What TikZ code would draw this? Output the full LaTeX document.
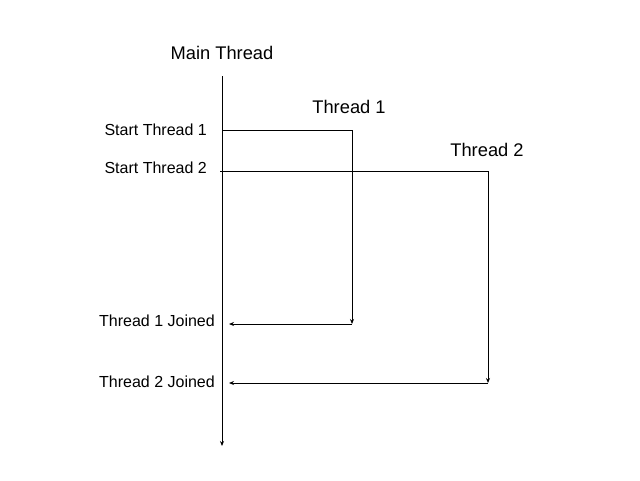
\documentclass[tikz,border=0pt]{standalone}
\usepackage{fontspec}
\setmainfont{Liberation Sans}
\usetikzlibrary{arrows.meta}
\begin{document}
\begin{tikzpicture}[x=1pt,y=-1pt,
  small/.style={font=\fontsize{16}{19}\selectfont, inner sep=0pt},
  big/.style={font=\fontsize{18.3}{21}\selectfont, inner sep=0pt},
  line/.style={line width=1pt, black},
  arr/.style={line, -{Stealth[length=5pt,width=4pt]}}]
\useasboundingbox (0,0) rectangle (640,480);
\node[big] (mt) at (222,53) {Main Thread};
\node[big] (t1) at (349,107) {Thread 1};
\node[big] (t2) at (487,150) {Thread 2};
\node[small, anchor=east] (s1) at (207,130) {Start Thread 1};
\node[small, anchor=east] (s2) at (207,168) {Start Thread 2};
\node[small, anchor=east] (j1) at (215,321) {Thread 1 Joined};
\node[small, anchor=east] (j2) at (215,382) {Thread 2 Joined};
\coordinate (mtop) at (222,76);
\coordinate (mbot) at (222,446);
\coordinate (a1) at (222,130);
\coordinate (b1) at (352,130);
\coordinate (c1) at (352,324);
\coordinate (d1) at (229,324);
\coordinate (a2) at (220,171);
\coordinate (b2) at (488,171);
\coordinate (c2) at (488,383);
\coordinate (d2) at (229,383);
\draw[arr] (mtop) -- (mbot);
\draw[line] (a1) -- (b1);
\draw[arr] (b1) -- (c1);
\draw[arr] (c1) -- (d1);
\draw[line] (a2) -- (b2);
\draw[arr] (b2) -- (c2);
\draw[arr] (c2) -- (d2);
\end{tikzpicture}
\end{document}
